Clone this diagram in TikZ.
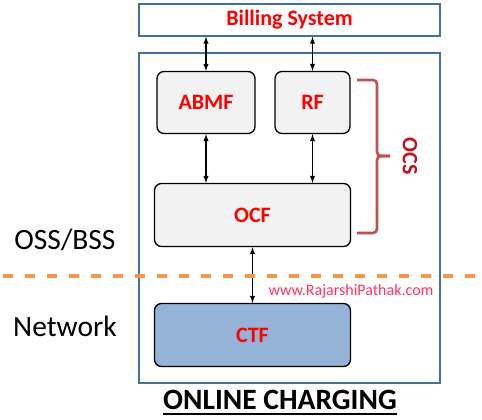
\documentclass[tikz,border=0pt]{standalone}
\usepackage{fontspec}
\setmainfont{Carlito}
\usepackage{tikz}
\usetikzlibrary{positioning, arrows.meta}
\tikzset{>=latex}
\usepackage{xcolor}
\definecolor{boxblue}{HTML}{41719C}
\definecolor{fnfill}{HTML}{F2F2F2}
\definecolor{ctffill}{HTML}{95B3D7}
\definecolor{bracered}{HTML}{C0504D}
\definecolor{ocstext}{HTML}{C0141E}
\definecolor{dashorange}{HTML}{F79646}
\definecolor{webred}{HTML}{FF3366}

\begin{document}
\begin{tikzpicture}[x=1pt,y=-1pt,
    fnbox/.style={draw=black,line width=1.3pt,rounded corners=7pt,fill=fnfill,
        inner sep=0pt,font=\fontsize{22}{24}\selectfont\bfseries,text=red},
    link/.style={<->,line width=1.4pt},
    brace/.style={bracered,line width=2.6pt,rounded corners=4pt},
    side/.style={font=\fontsize{29.5}{32}\selectfont}]
    
    \useasboundingbox (0,0) rectangle (482,420);
    
    %billing system on top, charging system below it
    \node[draw=boxblue,line width=1.5pt,inner sep=0pt,minimum width=301pt,minimum height=32pt,
        font=\fontsize{22}{24}\selectfont\bfseries,text=red] (bill) at (289.5,20) {Billing System};
    \draw[boxblue,line width=1.5pt] (139,53) rectangle (440,383);
    
    \node[fnbox,minimum width=98pt,minimum height=62pt] (abmf) at (206,102.5) {ABMF};
    \node[fnbox,minimum width=75pt,minimum height=62pt] (rf) at (312.5,102.5) {RF};
    \node[fnbox,minimum width=196pt,minimum height=63pt] (ocf) at (252.5,215) {OCF};
    \node[fnbox,fill=ctffill,minimum width=196pt,minimum height=63pt] (ctf) at (252.5,335) {CTF};
    
    \draw[link] (bill.south -| abmf.north) -- (abmf.north);
    \draw[link] (bill.south -| rf.north) -- (rf.north);
    \draw[link] (abmf.south) -- (abmf.south |- ocf.north);
    \draw[link] (rf.south) -- (rf.south |- ocf.north);
    \draw[link] (ocf.south) -- (ctf.north);
    
    %brace round the OCS
    \draw[brace] (357,80) -| (377,156) -- (390,156);
    \draw[brace] (390,156) -- (377,156) |- (357,233);
    \node[rotate=-90,text=ocstext,font=\fontsize{22}{24}\selectfont\bfseries] (ocs) at (410,156) {OCS};
    
    %domain split
    \draw[dashorange,line width=3.5pt,dash pattern=on 10pt off 12pt] (3,276) -- (482,276);
    \node[side] (oss) at (65,240) {OSS/BSS};
    \node[side] (net) at (65,326) {Network};
    \node[text=webred,font=\fontsize{16}{18}\selectfont] (web) at (351,291) {www.RajarshiPathak.com};
    
    \node[inner sep=0pt,font=\fontsize{29.5}{32}\selectfont\bfseries] (title) at (280,400) {ONLINE CHARGING};
    \draw[line width=2pt] ([yshift=-4pt]title.base west) -- ([yshift=-4pt]title.base east);
    
\end{tikzpicture}
\end{document}
